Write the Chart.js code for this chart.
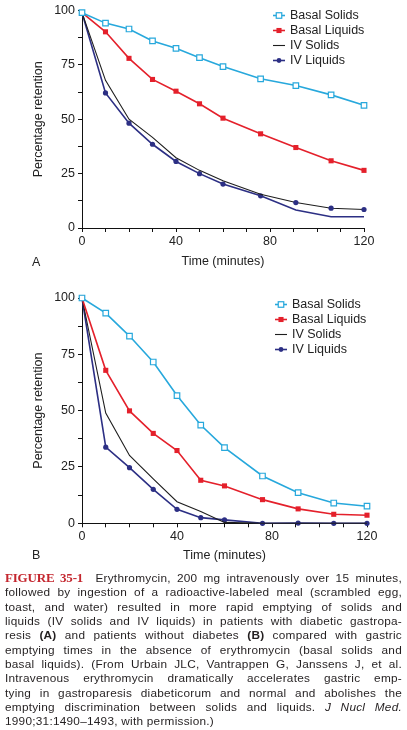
<!DOCTYPE html>
<html>
<head>
<meta charset="utf-8">
<script src="https://cdn.jsdelivr.net/npm/chart.js@4.4.1/dist/chart.umd.min.js"></script>
<style>
	html, body { margin: 0; padding: 0; background: #fff; }
	body { width: 407px; height: 730px; position: relative; overflow: hidden; font-family: "Liberation Sans", Arial, sans-serif; }
	canvas { position: absolute; left: 0; }
	#chartA { top: 0; }
	#chartB { top: 275px; }
	.panel { position: absolute; left: 32px; font-size: 12.5px; color: #222; line-height: 15px; }
	#caption { position: absolute; left: 5px; top: 571px; width: 397px; font-size: 11.8px; letter-spacing: 0.25px; line-height: 14.35px; color: #231f20; }
	#caption div { text-align: justify; text-align-last: justify; white-space: nowrap; }
	#caption div.last { text-align-last: left; }
	.fig { font-family: "Liberation Serif", "Times New Roman", serif; font-weight: bold; color: #c4262e; font-size: 13px; letter-spacing: -0.2px; }
</style>
</head>
<body>
<canvas id="chartA" width="407" height="275"></canvas>
<canvas id="chartB" width="407" height="295"></canvas>
<div class="panel" style="top:255px">A</div>
<div class="panel" style="top:548px">B</div>
<div id="caption">
	<div><span class="fig">FIGURE 35-1</span>&nbsp; Erythromycin, 200 mg intravenously over 15 minutes,</div>
	<div>followed by ingestion of a radioactive-labeled meal (scrambled egg,</div>
	<div>toast, and water) resulted in more rapid emptying of solids and</div>
	<div>liquids (IV solids and IV liquids) in patients with diabetic gastropa-</div>
	<div>resis <b>(A)</b> and patients without diabetes <b>(B)</b> compared with gastric</div>
	<div>emptying times in the absence of erythromycin (basal solids and</div>
	<div>basal liquids). (From Urbain JLC, Vantrappen G, Janssens J, et al.</div>
	<div>Intravenous erythromycin dramatically accelerates gastric emp-</div>
	<div>tying in gastroparesis diabeticorum and normal and abolishes the</div>
	<div>emptying discrimination between solids and liquids. <i>J Nucl Med.</i></div>
	<div class="last">1990;31:1490–1493, with permission.)</div>
</div>
<script>
// Время (минуты) — общие точки для обеих панелей
const times = [0, 10, 20, 30, 40, 50, 60, 76, 91, 106, 120];
const seriesNames = ['Basal Solids', 'Basal Liquids', 'IV Solids', 'IV Liquids'];
const yTicks = [0, 25, 50, 75, 100];
const xTicks = [0, 40, 80, 120];

// Панель A — пациенты с диабетическим гастропарезом
const basalSolidsA = [99, 94.2, 91.5, 86, 82.6, 78.3, 74.2, 68.6, 65.5, 61.2, 56.4];
const basalLiquidsA = [99, 90.2, 78, 68.3, 62.9, 57.1, 50.5, 43.3, 37, 30.9, 26.5];
const ivSolidsA = [99, 67.9, 50, 41.7, 32.3, 26.5, 21.7, 15.5, 11.7, 9.1, 8.5];
const ivLiquidsA = [99, 62.1, 48.2, 38.5, 30.6, 25, 20.2, 14.8, 8.3, 5.2, 5.2];

// Панель B — пациенты без диабета
const basalSolidsB = [100, 93.3, 83.1, 71.6, 56.7, 43.6, 33.6, 21, 13.6, 9, 7.6];
const basalLiquidsB = [100, 67.9, 49.9, 39.9, 32.3, 19.1, 16.6, 10.5, 6.4, 4, 3.6];
const ivSolidsB = [100, 48.9, 30.1, 19.7, 9.6, 5.2, 0.4, 0, 0, 0, 0];
const ivLiquidsB = [100, 33.8, 24.7, 15.1, 6.2, 2.5, 1.5, 0, 0.1, 0, 0];

const CYAN = '#27a8dc';
const RED = '#e4202b';
const BLACK = '#1e1e1e';
const NAVY = '#2c2f84';
const FONT = "'Liberation Sans', Arial, sans-serif";

function pts(values) {
	return values.map((v, i) => ({ x: times[i], y: v }));
}

function makeDatasets(bs, bl, ivs, ivl, dotsOnSolids) {
	const n = times.length;
	// в панели A последние три точки стоят на чёрной линии
	const solidR = times.map((t, i) => (dotsOnSolids && i >= n - 3) ? 2.6 : 0);
	const liqR = times.map((t, i) => (dotsOnSolids && i >= n - 3) ? 0 : 2.6);
	return [{
		label: seriesNames[0],
		data: pts(bs),
		borderColor: CYAN,
		borderWidth: 1.6,
		pointStyle: 'rect',
		pointRadius: 3.9,
		pointBackgroundColor: '#fff',
		pointBorderColor: CYAN,
		pointBorderWidth: 1.2,
		clip: false
	}, {
		label: seriesNames[1],
		data: pts(bl),
		borderColor: RED,
		borderWidth: 1.6,
		pointStyle: 'rect',
		pointRadius: 3.6,
		pointBackgroundColor: RED,
		pointBorderColor: RED,
		pointBorderWidth: 0,
		clip: false
	}, {
		label: seriesNames[2],
		data: pts(ivs),
		borderColor: BLACK,
		borderWidth: 1.1,
		pointStyle: 'circle',
		pointRadius: solidR,
		pointBackgroundColor: NAVY,
		pointBorderColor: NAVY,
		pointBorderWidth: 0,
		clip: false
	}, {
		label: seriesNames[3],
		data: pts(ivl),
		borderColor: NAVY,
		borderWidth: 1.6,
		pointStyle: 'circle',
		pointRadius: liqR,
		pointBackgroundColor: NAVY,
		pointBorderColor: NAVY,
		pointBorderWidth: 0,
		clip: false
	}];
}

// Легенда: короткая линия с маркером и подпись
function legendPlugin(x0, y0) {
	return {
		id: 'lineLegend',
		afterDraw(chart) {
			const ctx = chart.ctx;
			ctx.save();
			ctx.font = '12.5px ' + FONT;
			ctx.textBaseline = 'middle';
			chart.data.datasets.forEach((ds, i) => {
				const y = y0 + i * 15;
				ctx.strokeStyle = ds.borderColor;
				ctx.lineWidth = ds.borderWidth;
				ctx.beginPath();
				ctx.moveTo(x0, y);
				ctx.lineTo(x0 + 12, y);
				ctx.stroke();
				const cx = x0 + 6;
				if (ds.pointStyle === 'rect') {
					const s = ds.pointRadius * Math.SQRT1_2;
					ctx.fillStyle = ds.pointBackgroundColor;
					ctx.fillRect(cx - s, y - s, 2 * s, 2 * s);
					if (ds.pointBorderWidth) {
						ctx.lineWidth = ds.pointBorderWidth;
						ctx.strokeStyle = ds.pointBorderColor;
						ctx.strokeRect(cx - s, y - s, 2 * s, 2 * s);
					}
				} else if (i === 3) {
					ctx.fillStyle = ds.pointBackgroundColor;
					ctx.beginPath();
					ctx.arc(cx, y, 2.4, 0, Math.PI * 2);
					ctx.fill();
				}
				ctx.fillStyle = '#222';
				ctx.fillText(ds.label, x0 + 17, y + 0.5);
			});
			ctx.restore();
		}
	};
}

function makeOptions(pad, xHeight, xTitlePad) {
	return {
		responsive: false,
		animation: false,
		layout: { padding: pad },
		plugins: {
			legend: { display: false },
			tooltip: { enabled: false }
		},
		scales: {
			x: {
				type: 'linear',
				min: 0,
				max: 120,
				afterFit: (s) => { s.height = xHeight; },
				afterBuildTicks: (s) => { s.ticks = [0, 10, 20, 30, 40, 50, 60, 70, 80, 90, 100, 110, 120].map(v => ({ value: v })); },
				border: { display: true, color: '#111', width: 1 },
				grid: { drawOnChartArea: false, drawTicks: true, tickLength: 4, tickColor: '#111' },
				ticks: {
					color: '#222',
					padding: 2,
					maxRotation: 0,
					autoSkip: false,
					font: { family: FONT, size: 12.5 },
					callback: (v) => xTicks.includes(v) ? String(v) : ''
				},
				title: {
					display: true,
					text: 'Time (minutes)',
					color: '#222',
					font: { family: FONT, size: 12.5 },
					padding: { top: 0, bottom: xTitlePad }
				}
			},
			y: {
				min: 0,
				max: 100,
				afterFit: (s) => { s.width = 82; },
				afterBuildTicks: (s) => { s.ticks = [0, 12.5, 25, 37.5, 50, 62.5, 75, 87.5, 100].map(v => ({ value: v })); },
				border: { display: true, color: '#111', width: 1 },
				grid: { drawOnChartArea: false, drawTicks: true, tickLength: 4, tickColor: '#111' },
				ticks: {
					color: '#222',
					padding: 3,
					autoSkip: false,
					font: { family: FONT, size: 12.5 },
					callback: (v) => yTicks.includes(v) ? String(v) : ''
				},
				title: {
					display: true,
					text: 'Percentage retention',
					color: '#222',
					font: { family: FONT, size: 12.5 },
					padding: { top: 31, bottom: 0 }
				}
			}
		}
	};
}

new Chart(document.getElementById('chartA'), {
	type: 'line',
	data: { datasets: makeDatasets(basalSolidsA, basalLiquidsA, ivSolidsA, ivLiquidsA, true) },
	options: makeOptions({ left: 0, right: 43, top: 8, bottom: 0 }, 47, 5.5),
	plugins: [legendPlugin(273, 15.5)]
});

new Chart(document.getElementById('chartB'), {
	type: 'line',
	data: { datasets: makeDatasets(basalSolidsB, basalLiquidsB, ivSolidsB, ivLiquidsB, false) },
	options: makeOptions({ left: 0, right: 40, top: 23, bottom: 0 }, 46.7, 6.8),
	plugins: [legendPlugin(275, 29.5)]
});
</script>
</body>
</html>
